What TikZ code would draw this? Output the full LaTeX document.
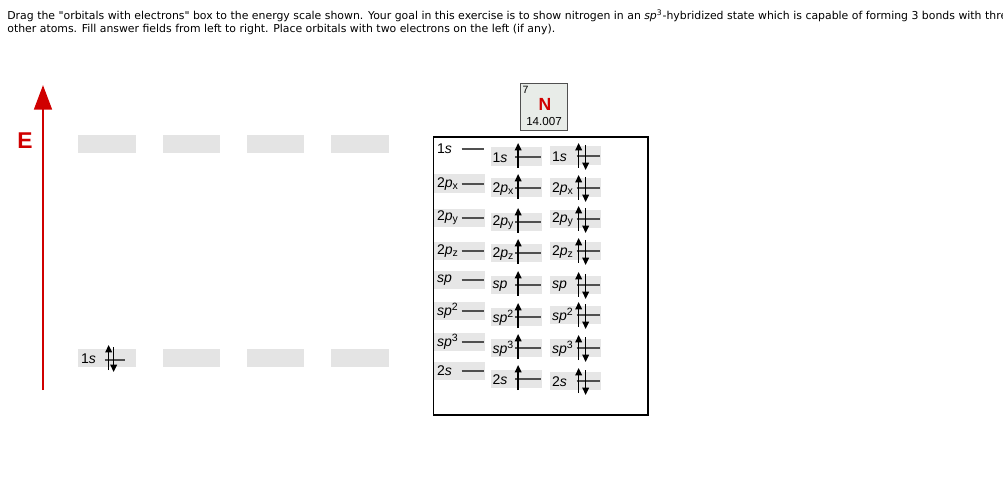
\documentclass[tikz,border=0pt]{standalone}
\usepackage{fontspec}
\setmainfont{Liberation Sans}
\newfontfamily\taskfont{DejaVu Sans}
\usetikzlibrary{arrows.meta,calc}

\definecolor{ered}{RGB}{208,0,0}
\definecolor{slotgray}{RGB}{228,228,228}
\definecolor{cellgray}{RGB}{230,230,230}
\definecolor{levelgray}{RGB}{80,80,80}
\definecolor{elemfill}{RGB}{232,236,232}

\begin{document}
\begin{tikzpicture}[x=0.02cm, y=-0.02cm,
  slot/.style={fill=slotgray, inner sep=0pt, minimum width=1.16cm, minimum height=0.36cm},
  cell/.style={fill=cellgray, inner sep=0pt, minimum width=1.02cm, minimum height=0.38cm},
  orb/.style={font=\fontsize{8}{9}\selectfont, inner sep=0pt, anchor=west},
  task/.style={font=\taskfont\fontsize{6.2}{7}\selectfont, inner sep=0pt, anchor=base west},
  level/.style={draw=levelgray, line width=0.75pt},
  electron/.style={line width=0.85pt, -{Triangle[length=4.2pt,width=3.8pt]}},
  axis/.style={draw=ered, line width=1.7pt, -{Triangle[length=14pt,width=10pt]}}]

  % --- Rahmen ---
  \useasboundingbox (0,0) rectangle (1003,479);
  \clip (0,0) rectangle (1003,479);

  % --- Aufgabentext ---
  \node[task] (txt1) at (7,20) {Drag the "orbitals with electrons" box to the energy scale shown. Your goal in this exercise is to show nitrogen in an \textit{sp}\textsuperscript{3}-hybridized state which is capable of forming 3 bonds with three};
  \node[task] (txt2) at (7,33) {other atoms. Fill answer fields from left to right. Place orbitals with two electrons on the left (if any).};

  % --- Energieachse ---
  \coordinate (axbot) at (43,390);
  \coordinate (axtop) at (43,85);
  \draw[axis] (axbot) -- (axtop);
  \node[text=ered, font=\bfseries\fontsize{13}{13}\selectfont, inner sep=0pt] (E) at (25,141) {E};

  % --- Antwortfelder ---
  \foreach \xs [count=\j] in {107,191.5,275.5,360} {
    \node[slot] (top\j) at (\xs,144) {};
    \node[slot] (bot\j) at (\xs,358) {};
  }

  % --- 1s im ersten Feld ---
  \node[orb] (bot1lab) at ($(bot1.west)+(3,1)$) {1\textit{s}};
  \draw[level] ($(bot1.west)+(27,2)$) -- ($(bot1.west)+(47,2)$);
  \draw[electron] ($(bot1.west)+(31,12)$) -- ($(bot1.west)+(31,-13)$);
  \draw[electron] ($(bot1.west)+(36,-11)$) -- ($(bot1.west)+(36,14)$);

  % --- Element ---
  \node[draw=levelgray, fill=elemfill, inner sep=0pt, minimum width=0.94cm, minimum height=0.94cm] (elem) at (543.5,106.5) {};
  \node[font=\fontsize{6}{6}\selectfont, inner sep=0pt] (Z) at (525.5,90) {7};
  \node[text=ered, font=\bfseries\fontsize{10}{10}\selectfont, inner sep=0pt] (sym) at (545,104) {N};
  \node[font=\fontsize{6.6}{7}\selectfont, inner sep=0pt] (mass) at (544,122) {14.007};

  % --- Kasten mit Orbitalen ---
  \node[draw, line width=0.6pt, inner sep=0pt, minimum width=4.3cm, minimum height=5.56cm] (panel) at (540.5,276) {};

  \foreach \lab/\fa/\ya/\yb/\yc [count=\i] in {
      1\textit{s}/white/149/157/156,
      2\textit{p}\textsubscript{x}/cellgray/184/188/188,
      2\textit{p}\textsubscript{y}/cellgray/218/222/219,
      2\textit{p}\textsubscript{z}/cellgray/251/253/251,
      \textit{sp}/cellgray/280/285/285,
      \textit{sp}\textsuperscript{2}/cellgray/311/317/315,
      \textit{sp}\textsuperscript{3}/cellgray/342/348/348,
      2\textit{s}/cellgray/371/379/381} {
    % leer
    \node[cell, fill=\fa] (a\i) at (459.5,\ya) {};
    \node[orb] (la\i) at ($(a\i.west)+(3,0)$) {\lab};
    \draw[level] ($(a\i.west)+(28,0)$) -- ($(a\i.east)+(-1,0)$);
    % ein Elektron
    \node[cell] (b\i) at (516,\yb) {};
    \node[orb] (lb\i) at ($(b\i.west)+(2,1)$) {\lab};
    \draw[level] ($(b\i.west)+(25,0)$) -- ($(b\i.east)+(-1,0)$);
    \draw[electron] ($(b\i.west)+(28,11)$) -- ($(b\i.west)+(28,-14)$);
    % zwei Elektronen
    \node[cell] (c\i) at (575.5,\yc) {};
    \node[orb] (lc\i) at ($(c\i.west)+(2,1)$) {\lab};
    \draw[level] ($(c\i.west)+(27,0)$) -- ($(c\i.east)+(-1,0)$);
    \draw[electron] ($(c\i.west)+(29,12)$) -- ($(c\i.west)+(29,-13)$);
    \draw[electron] ($(c\i.west)+(36,-11)$) -- ($(c\i.west)+(36,14)$);
  }

\end{tikzpicture}
\end{document}
